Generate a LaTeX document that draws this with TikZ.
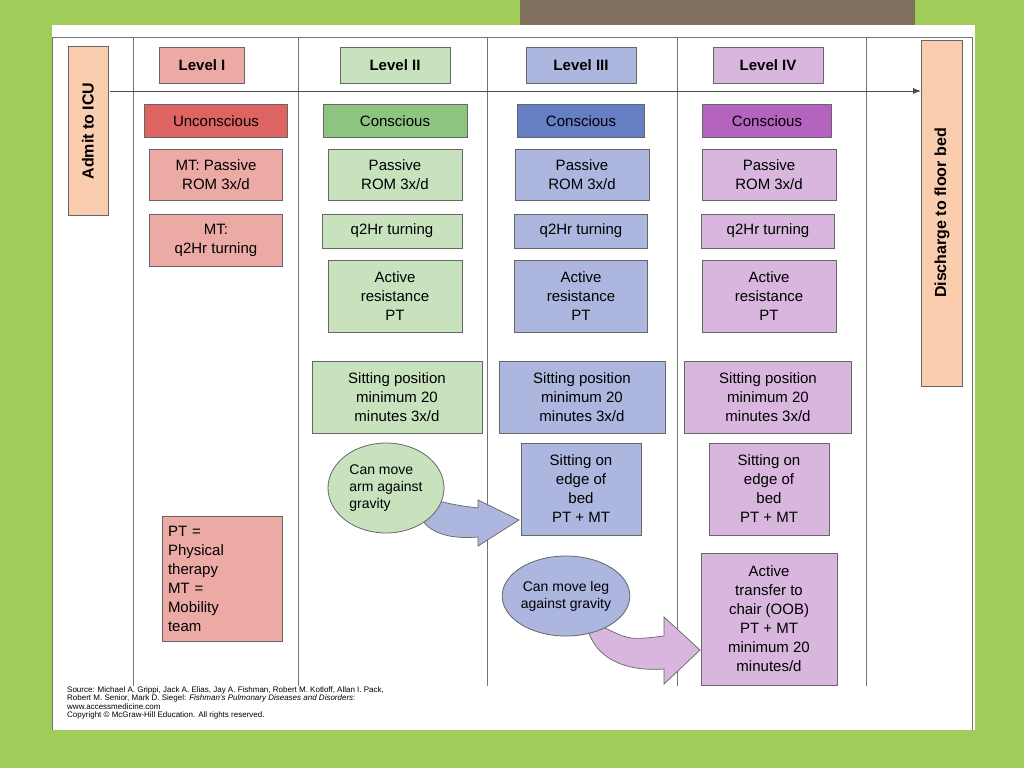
\documentclass[tikz,border=0pt]{standalone}
\usepackage{fontspec}
\setmainfont{Liberation Sans}
\usetikzlibrary{shapes.geometric,arrows.meta}
\definecolor{bg}{RGB}{160,205,90}
\definecolor{pkL}{RGB}{236,170,165}\definecolor{pkD}{RGB}{222,100,100}
\definecolor{grL}{RGB}{200,226,190}\definecolor{grD}{RGB}{140,196,128}
\definecolor{buL}{RGB}{172,182,222}\definecolor{buD}{RGB}{102,126,196}
\definecolor{puL}{RGB}{216,182,222}\definecolor{puD}{RGB}{180,100,190}
\definecolor{orL}{RGB}{250,205,175}
\begin{document}
\begin{tikzpicture}[x=1pt,y=-1pt,
 bx/.style={draw=black!60,line width=0.8pt,align=center,font=\fontsize{15}{19}\selectfont,inner sep=2pt},
 hd/.style={bx,minimum width=110pt,minimum height=36pt,font=\bfseries\fontsize{15}{18}\selectfont},
 ell/.style={ellipse,draw=black!60,line width=0.8pt,align=center,font=\fontsize{14}{17}\selectfont,inner sep=0pt},
 vl/.style={draw=black!55,line width=0.8pt},
 fa/.style={draw=black!60,line width=0.7pt}]
\useasboundingbox (0,0) rectangle (1024,768);
\fill[bg] (0,0) rectangle (1024,768);
\fill[black!60!brown!70] (520,0) rectangle (915,25);
\fill[white] (52,25) rectangle (975,730);
\draw[vl] (52,37) -- (972,37) -- (972,730);
\draw[vl] (52,37) -- (52,730);
\foreach \x in {133,298,487,677,866}{\draw[vl] (\x,37) -- (\x,686);}
\coordinate (as) at (110,91); \coordinate (ae) at (921,91);
\draw[black!70,line width=0.8pt,-{Latex[length=8pt,width=6pt]}] (as) -- (ae);
% headers
\node[hd,fill=pkL,minimum width=85pt] (l1) at (202,65) {Level I};
\node[hd,fill=grL] (l2) at (395,65) {Level II};
\node[hd,fill=buL] (l3) at (581,65) {Level III};
\node[hd,fill=puL] (l4) at (768,65) {Level IV};
\node[bx,fill=orL,minimum width=40pt,minimum height=169pt] (adm) at (88,131) {};
\node[rotate=90,font=\bfseries\fontsize{16}{18}\selectfont] at (adm) {Admit to ICU};
\node[bx,fill=orL,minimum width=41pt,minimum height=346pt] (dis) at (942,213) {};
\node[rotate=90,font=\bfseries\fontsize{16}{18}\selectfont] at (dis) {Discharge to floor bed};
% row 1
\node[bx,fill=pkD,minimum width=143pt,minimum height=33pt] (u1) at (216,121) {Unconscious};
\node[bx,fill=grD,minimum width=144pt,minimum height=33pt] (c2) at (395,121) {Conscious};
\node[bx,fill=buD,minimum width=127pt,minimum height=33pt] (c3) at (581,121) {Conscious};
\node[bx,fill=puD,minimum width=129pt,minimum height=33pt] (c4) at (767,121) {Conscious};
% col I
\node[bx,fill=pkL,minimum width=133pt,minimum height=51pt] (m1) at (216,175) {MT: Passive\\ROM 3x/d};
\node[bx,fill=pkL,minimum width=133pt,minimum height=52pt] (m2) at (216,240) {MT:\\q2Hr turning};
\node[bx,fill=pkL,text width=108pt,inner sep=6pt,minimum height=125pt,align=left] (pt) at (222,579) {PT =\\Physical\\therapy\\MT =\\Mobility\\team};
% col II
\node[bx,fill=grL,minimum width=134pt,minimum height=51pt] (p2) at (395,175) {Passive\\ROM 3x/d};
\node[bx,fill=grL,minimum width=140pt,minimum height=34pt] (q2) at (392,231) {q2Hr turning};
\node[bx,fill=grL,minimum width=134pt,minimum height=72pt] (a2) at (395,296) {Active\\resistance\\PT};
\node[bx,fill=grL,minimum width=170pt,minimum height=72pt] (s2) at (397,397) {Sitting position\\minimum 20\\minutes 3x/d};
% col III
\node[bx,fill=buL,minimum width=134pt,minimum height=51pt] (p3) at (582,175) {Passive\\ROM 3x/d};
\node[bx,fill=buL,minimum width=133pt,minimum height=34pt] (q3) at (581,231) {q2Hr turning};
\node[bx,fill=buL,minimum width=133pt,minimum height=72pt] (a3) at (581,296) {Active\\resistance\\PT};
\node[bx,fill=buL,minimum width=166pt,minimum height=72pt] (s3) at (582,397) {Sitting position\\minimum 20\\minutes 3x/d};
\node[bx,fill=buL,minimum width=120pt,minimum height=92pt] (e3) at (581,489) {Sitting on\\edge of\\bed\\PT + MT};
% col IV
\node[bx,fill=puL,minimum width=134pt,minimum height=51pt] (p4) at (769,175) {Passive\\ROM 3x/d};
\node[bx,fill=puL,minimum width=133pt,minimum height=34pt] (q4) at (768,231) {q2Hr turning};
\node[bx,fill=puL,minimum width=134pt,minimum height=72pt] (a4) at (769,296) {Active\\resistance\\PT};
\node[bx,fill=puL,minimum width=167pt,minimum height=72pt] (s4) at (768,397) {Sitting position\\minimum 20\\minutes 3x/d};
\node[bx,fill=puL,minimum width=120pt,minimum height=92pt] (e4) at (769,489) {Sitting on\\edge of\\bed\\PT + MT};
\node[bx,fill=puL,minimum width=136pt,minimum height=132pt] (t4) at (769,619) {Active\\transfer to\\chair (OOB)\\PT + MT\\minimum 20\\minutes/d};
% fat arrows
\fill[buL] (435,500) .. controls (455,505) .. (478,508) -- (478,500) -- (519,520) -- (478,546) -- (478,537)
  .. controls (445,540) and (425,530) .. (420,515) -- cycle;
\draw[fa] (435,500) .. controls (455,505) .. (478,508) -- (478,500) -- (519,520) -- (478,546) -- (478,537)
  .. controls (445,540) and (425,530) .. (420,515);
\fill[puL] (605,628) .. controls (630,640) .. (664,636) -- (664,617) -- (700,650) -- (664,684) -- (664,669)
  .. controls (620,672) and (595,655) .. (588,630) -- cycle;
\draw[fa] (605,628) .. controls (630,640) .. (664,636) -- (664,617) -- (700,650) -- (664,684) -- (664,669)
  .. controls (620,672) and (595,655) .. (588,630);
\node[ell,fill=grL,minimum width=116pt,minimum height=90pt,align=left] (g2) at (386,488) {Can move\\arm against\\gravity};
\node[ell,fill=buL,minimum width=124pt,minimum height=80pt] (g3) at (566,596) {Can move leg\\against gravity};
% source
\node[anchor=north west,align=left,font=\fontsize{8}{8.5}\selectfont,inner sep=0pt,fill=white] (src) at (67,686)
 {Source: Michael A. Grippi, Jack A. Elias, Jay A. Fishman, Robert M. Kotloff, Allan I. Pack,\\
 Robert M. Senior, Mark D. Siegel: \textit{Fishman's Pulmonary Diseases and Disorders}:\\
 www.accessmedicine.com\\Copyright \textcopyright\ McGraw-Hill Education. All rights reserved.};
\end{tikzpicture}
\end{document}
